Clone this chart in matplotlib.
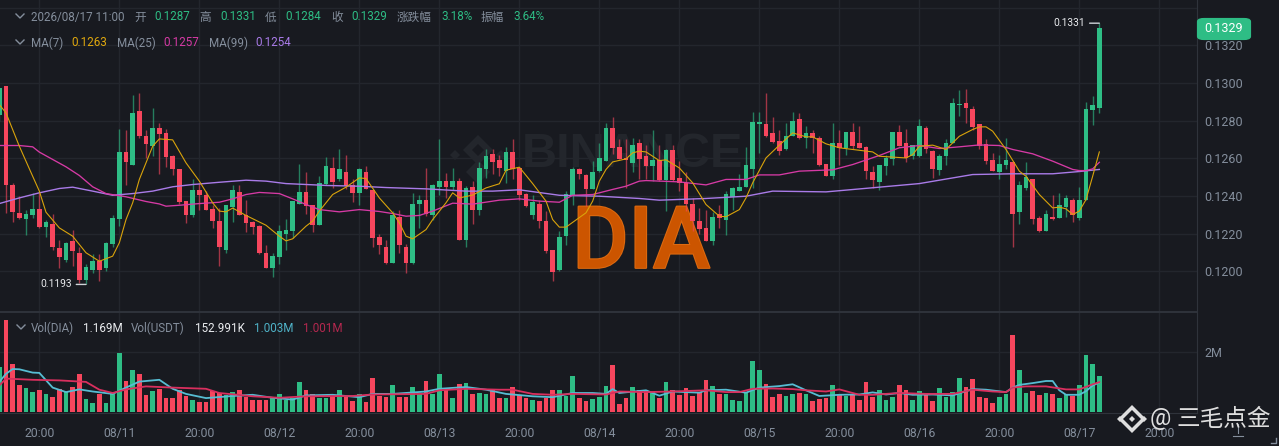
import matplotlib
matplotlib.use("Agg")
import matplotlib.pyplot as plt
import matplotlib.patheffects as pe
from matplotlib.lines import Line2D
from matplotlib.patches import Polygon, FancyBboxPatch
import numpy as np

W, H = 1279, 446
plt.rcParams['font.family'] = ['Roboto', 'Noto Sans CJK SC', 'DejaVu Sans']

# hourly candles, prices in 1e-5 USDT, first candle is cut by the left edge
opens = [12829,
    12983,12461,12311,12277,12297,12330,12237,12252,12122,12063,
    12161,12100,11955,12005,12053,12016,12148,12277,12631,12567,
    12852,12721,12668,12763,12732,12613,12541,12371,12297,12431,
    12403,12330,12270,12116,12344,12420,12300,12261,12240,12100,
    12016,12076,12196,12217,12357,12420,12351,12245,12466,12549,
    12488,12530,12459,12417,12530,12433,12180,12130,12046,12291,
    12130,12046,12357,12381,12297,12447,12480,12447,12480,12166,
    12450,12328,12546,12622,12592,12535,12631,12548,12410,12297,
    12360,12270,12111,12005,12187,12406,12541,12511,12436,12535,
    12587,12762,12661,12601,12576,12682,12611,12557,12592,12486,
    12643,12493,12470,12360,12270,12231,12164,12302,12275,12396,
    12426,12447,12546,12781,12781,12732,12691,12647,12717,12811,
    12707,12732,12710,12571,12505,12682,12657,12742,12682,12661,
    12530,12477,12557,12597,12742,12682,12611,12611,12762,12641,
    12537,12611,12682,12882,12892,12864,12783,12677,12592,12526,
    12567,12581,12316,12445,12491,12281,12215,12291,12286,12344,
    12381,12286,12378,12857,12868]
closes = [12974,
    12456,12316,12286,12302,12332,12237,12260,12129,12076,12152,
    12107,11955,12021,12053,12007,12152,12281,12631,12578,12843,
    12716,12677,12763,12728,12606,12546,12366,12297,12431,12408,
    12327,12265,12127,12350,12431,12298,12256,12237,12097,12016,
    12081,12212,12221,12371,12422,12346,12245,12470,12560,12477,
    12541,12452,12417,12541,12436,12176,12138,12046,12297,12138,
    12046,12360,12381,12307,12459,12480,12447,12480,12166,12440,
    12328,12551,12611,12578,12548,12631,12542,12406,12346,12367,
    12265,12106,11996,12180,12410,12541,12516,12436,12530,12601,
    12762,12657,12597,12590,12671,12597,12557,12592,12486,12643,
    12486,12468,12357,12265,12226,12164,12291,12286,12412,12442,
    12450,12562,12792,12792,12716,12686,12638,12721,12800,12707,
    12732,12707,12567,12505,12682,12654,12742,12668,12657,12535,
    12486,12562,12602,12742,12668,12602,12671,12772,12652,12546,
    12611,12682,12892,12889,12866,12767,12664,12587,12535,12572,
    12592,12307,12461,12502,12277,12215,12302,12277,12350,12392,
    12300,12381,12862,12882,13292]
highs = [12974,
    12983,12470,12399,12328,12417,12417,12275,12307,12169,12157,
    12219,12129,12037,12090,12090,12157,12298,12758,12749,12938,
    12947,12749,12869,12788,12753,12620,12541,12371,12488,12470,
    12426,12355,12337,12355,12456,12459,12378,12270,12244,12138,
    12099,12247,12279,12371,12569,12528,12355,12505,12608,12608,
    12650,12620,12488,12549,12558,12433,12199,12169,12318,12327,
    12148,12417,12408,12549,12466,12700,12523,12549,12496,12452,
    12479,12580,12650,12650,12620,12659,12700,12548,12417,12408,
    12378,12318,12116,12217,12427,12555,12549,12519,12588,12679,
    12788,12820,12700,12700,12709,12700,12673,12749,12670,12647,
    12673,12588,12526,12390,12337,12328,12316,12350,12429,12449,
    12519,12659,12848,12848,12947,12820,12749,12788,12848,12839,
    12770,12749,12721,12572,12788,12749,12742,12788,12770,12664,
    12558,12567,12620,12742,12779,12758,12671,12809,12770,12643,
    12625,12700,12921,12960,12970,12880,12783,12700,12629,12620,
    12709,12581,12479,12580,12491,12293,12328,12408,12417,12406,
    12389,12449,12899,12930,13317]
lows = [12800,
    12311,12261,12279,12191,12284,12231,12180,12111,12019,12049,
    12028,11940,11931,11993,11948,12001,12130,12240,12459,12567,
    12709,12601,12611,12519,12555,12514,12359,12258,12288,12328,
    12325,12228,12028,12099,12261,12297,12208,12196,12090,12016,
    11968,12037,12116,12178,12357,12307,12208,12245,12461,12442,
    12481,12435,12369,12350,12435,12129,12090,12040,12046,12099,
    11989,12040,12228,12293,12272,12408,12387,12431,12166,12129,
    12249,12298,12496,12519,12505,12470,12488,12381,12343,12279,
    12228,12099,11948,12001,12139,12350,12488,12346,12435,12530,
    12587,12625,12594,12440,12530,12488,12488,12479,12479,12320,
    12482,12429,12320,12214,12196,12160,12139,12228,12191,12328,
    12426,12447,12440,12629,12712,12682,12620,12643,12717,12703,
    12657,12629,12558,12505,12488,12567,12620,12652,12654,12488,
    12443,12431,12509,12567,12664,12580,12594,12608,12629,12496,
    12509,12564,12682,12823,12788,12749,12652,12569,12532,12488,
    12541,12129,12249,12431,12249,12208,12215,12275,12286,12290,
    12261,12272,12378,12779,12838]

# volume in millions, same candles
volumes = [1.49,
    3.07,1.60,.91,.80,.66,.75,.59,.50,.78,.68,
    .84,1.28,.45,.32,.59,.32,.61,1.99,1.03,1.40,
    1.28,.56,.69,.76,.46,.48,.75,.54,.39,.34,
    .34,.69,.65,.56,.66,.75,.49,.41,.42,.42,
    .50,.59,.41,.48,.99,.73,.59,.47,.48,.53,
    .75,.53,.37,.61,.34,1.14,.54,.51,.91,.51,
    .51,.83,.59,1.03,.61,1.26,.75,.48,.95,.98,
    .61,.65,.59,.73,.46,.46,.85,.56,.47,.39,
    .37,.48,.75,.74,.53,1.20,.48,.36,.45,.50,
    .86,1.56,.28,.46,.83,.73,.73,.67,.48,1.01,
    .73,.58,.79,.53,.66,1.06,.86,.59,.61,.41,
    .36,.65,1.71,1.39,.95,.50,.61,.55,.59,.64,
    .61,.37,.45,.48,.89,.61,.54,.56,.41,1.01,
    .51,.73,.42,.50,.89,.75,.42,.72,.56,.37,
    .79,.50,.68,1.13,.83,1.09,.51,.48,.29,.51,
    .61,2.59,1.42,.65,.72,.58,.63,.59,.47,.61,
    .54,.92,1.91,1.60,1.20]

ma7_idx = [-1,0,2,4,5,6,8,10,12,14,16,17,18,19,20,21,22,23,25,27,29,31,32,33,34,36,39,41,42,43,45,46,47,
    49,51,53,54,56,58,59,60,61,63,64,66,67,68,70,72,74,75,77,79,81,82,83,84,87,88,89,90,91,93,94,95,
    96,98,99,101,103,105,107,108,110,111,112,114,116,118,120,121,123,125,127,130,131,135,136,137,139,141,143,
    145,146,147,148,150,152,153,155,157,158,159,160,161,162,163,164]
ma7 = [12885,12841,12664,12505,12426,12314,12231,12187,12099,12054,12081,12152,12275,12364,12488,12576,12664,12703,12698,12576,12479,12364,12320,12316,12336,12297,12245,12187,12162,12173,12240,12267,12320,
    12408,12447,12496,12493,12390,12311,12258,12187,12173,12222,12275,12364,12417,12390,12405,12443,12465,12537,12553,12466,12373,12275,12235,12235,12311,12373,12479,12541,12581,12597,12629,12638,
    12634,12588,12592,12549,12470,12355,12293,12290,12328,12390,12470,12602,12670,12735,12714,12714,12677,12656,12647,12634,12611,12602,12620,12664,12670,12647,12717,
    12753,12767,12767,12744,12647,12532,12505,12408,12337,12341,12332,12302,12320,12381,12505,12634]

ma25_idx = [-1,2,4,5,7,9,11,13,15,18,21,23,24,26,29,32,34,36,38,41,43,45,47,
    50,53,56,58,60,62,64,67,70,74,77,80,83,85,88,91,93,95,
    96,101,105,108,111,113,116,119,124,127,131,134,137,140,143,
    146,149,151,154,157,160,161,162,163,164]
ma25 = [12668,12668,12661,12633,12594,12555,12509,12449,12413,12396,12371,12358,12346,12351,12360,12367,12385,12408,12419,12413,12385,12355,12328,
    12316,12328,12318,12307,12293,12297,12320,12362,12357,12378,12385,12373,12367,12404,12408,12435,12452,12479,
    12482,12475,12459,12488,12488,12512,12512,12532,12539,12567,12615,12656,12668,12652,12661,
    12671,12668,12647,12624,12585,12541,12535,12535,12544,12579]

ma99_idx = [-1,2,5,8,10,13,16,19,22,25,28,32,36,39,42,47,
    48,53,57,63,69,73,77,83,89,95,
    98,105,111,115,123,131,137,143,
    145,151,157,161,164]
ma99 = [12360,12390,12417,12440,12447,12426,12404,12413,12426,12449,12461,12473,12484,12479,12466,12458,
    12456,12452,12445,12438,12426,12426,12433,12404,12399,12387,
    12378,12387,12399,12426,12422,12447,12466,12502,
    12514,12518,12518,12530,12541]

vol_ma1_idx = [-1,0,1,2,4,5,7,9,11,13,16,18,20,23,25,27,30,34,37,40,43,45,49,53,55,58,63,
    65,69,72,75,79,82,85,88,90,91,92,96,98,100,104,105,108,111,113,116,118,120,122,125,128,
    130,132,134,136,139,142,144,145,147,150,151,152,154,156,157,158,159,161,162,163,164]
vol_ma1 = [1.01,1.28,1.44,1.43,1.32,1.31,.82,.67,.76,.69,.61,.82,1.02,1.08,.78,.61,.47,.54,.58,.48,.42,.56,.58,.50,.61,.61,.69,
    .78,.84,.75,.61,.53,.50,.64,.64,.61,.77,.64,.73,.55,.69,.65,.73,.75,.65,.82,.87,.93,.73,.54,.58,.59,
    .66,.59,.64,.58,.59,.56,.70,.77,.75,.67,.82,.91,.97,1.04,1.04,.73,.58,.58,.70,.89,.99]

vol_ma2_idx = [-1,0,4,8,12,14,16,18,21,25,30,32,37,41,45,52,55,63,
    65,69,74,76,79,82,85,90,92,96,100,105,108,110,112,115,118,120,123,125,127,128,
    130,134,138,142,145,148,150,151,153,156,159,161,163,164]
vol_ma2 = [.89,1.12,1.08,1.06,1.01,.75,.64,.76,.86,.82,.78,.64,.53,.48,.53,.54,.59,.61,
    .73,.78,.75,.75,.61,.58,.61,.59,.69,.67,.69,.73,.67,.67,.78,.79,.77,.73,.69,.76,.64,.58,
    .58,.64,.61,.61,.75,.69,.67,.82,.86,.86,.76,.76,.93,1.00]

price_ticks = [0.120, 0.122, 0.124, 0.126, 0.128, 0.130, 0.132, 0.134]
price_tick_labels = ['0.1200', '0.1220', '0.1240', '0.1260', '0.1280', '0.1300', '0.1320', '']
time_ticks = [5, 17, 29, 41, 53, 65, 77, 89, 101, 113, 125, 137, 149, 161, 173]
time_labels = ['20:00', '08/11', '20:00', '08/12', '20:00', '08/13', '20:00', '08/14',
               '20:00', '08/15', '20:00', '08/16', '20:00', '08/17', '20:00']

BG = '#181a20'
UP = '#2ebd85'
DOWN = '#f6465d'
GRID = '#23262d'
AXIS = '#2f333b'
TXT = '#848e9c'

x = np.arange(-1, 165)
o = np.array(opens) / 1e5
c = np.array(closes) / 1e5
hi = np.array(highs) / 1e5
lo = np.array(lows) / 1e5
vol = np.array(volumes)
up = c >= o
cols = [UP if u else DOWN for u in up]


def fx(px):
    return px / W


def fy(py):
    return 1 - py / H


fig = plt.figure(figsize=(W / 100, H / 100), dpi=100, facecolor=BG)
ax = fig.add_axes([0, fy(311), fx(1197), 311 / H], facecolor=BG)
axv = fig.add_axes([0, fy(413), fx(1197), 101.5 / H], facecolor=BG, sharex=ax)

# main panel
ax.set_xlim(-0.9, 178.65)
ax.set_ylim(0.11790, 0.13440)
ax.set_xticks(time_ticks)
ax.set_yticks(price_ticks)
ax.set_yticklabels(price_tick_labels)
ax.yaxis.tick_right()
ax.tick_params(axis='y', length=0, pad=5.5, labelsize=9, labelcolor=TXT)
ax.tick_params(axis='x', length=0, labelbottom=False)
ax.grid(True, color=GRID, lw=1)
ax.set_axisbelow(True)
for s in ax.spines.values():
    s.set_visible(False)
ax.spines['right'].set_visible(True)
ax.spines['right'].set_color(AXIS)

ax.text(94, 0.12618, 'BINANCE', color='#23262c', fontsize=35, fontweight='bold',
        family=['Liberation Sans'], ha='center', va='center', zorder=1)
dia = ax.text(95.3, 0.12019, 'DIA', color='#cc5500', fontsize=62, fontweight='medium', family=['Roboto'],
              ha='center', va='baseline', zorder=1.5)
dia.set_path_effects([pe.withStroke(linewidth=1.5, foreground='#dd6a10')])

ax.vlines(x, lo, hi, colors=cols, lw=1, alpha=0.62, zorder=2)
ax.bar(x, np.abs(c - o), bottom=np.minimum(o, c), width=0.74, color=cols, zorder=3)
ax.plot(ma99_idx, np.array(ma99) / 1e5, color='#a97be8', lw=1, zorder=4)
ax.plot(ma25_idx, np.array(ma25) / 1e5, color='#d63aa5', lw=0.95, zorder=4)
ax.plot(ma7_idx, np.array(ma7) / 1e5, color='#d9a30b', lw=0.8, zorder=5)

for idx, label in ((np.argmax(hi), '0.1331'), (np.argmin(lo), '0.1193')):
    ax.annotate(label, xy=(x[idx], [hi, lo][label == '0.1193'][idx]), xytext=(-10, 0),
                textcoords='offset points', ha='right', va='center', color='#eaecef', fontsize=7.4,
                arrowprops=dict(arrowstyle='-', color='#cfd3d8', lw=1, shrinkA=1, shrinkB=0), zorder=6)

# volume panel
axv.set_ylim(-0.027, 3.357)
axv.set_yticks([2])
axv.set_yticklabels(['2M'])
axv.yaxis.tick_right()
axv.tick_params(axis='y', length=0, pad=5.5, labelsize=9, labelcolor=TXT)
axv.set_xticks(time_ticks)
axv.set_xticklabels(time_labels)
axv.tick_params(axis='x', length=0, pad=10, labelsize=8.8, labelcolor=TXT)
axv.grid(True, color=GRID, lw=1)
axv.set_axisbelow(True)
for s in axv.spines.values():
    s.set_visible(False)
axv.spines['right'].set_visible(True)
axv.spines['right'].set_color(AXIS)
axv.spines['top'].set_visible(True)
axv.spines['top'].set_color(AXIS)
axv.spines['top'].set_linewidth(1.4)
axv.spines['bottom'].set_visible(True)
axv.spines['bottom'].set_color(AXIS)
axv.bar(x, vol, width=0.74, color=cols, zorder=3)
axv.plot(vol_ma1_idx, vol_ma1, color='#56bdd3', lw=1.3, zorder=4)
axv.plot(vol_ma2_idx, vol_ma2, color='#d92f5e', lw=1.3, zorder=5)


def row(py, items, size=8.4):
    for px, s, col in items:
        fig.text(fx(px), fy(py), s, color=col, fontsize=size, ha='left', va='center', zorder=10)


def chevron(px, py):
    fig.add_artist(Line2D([fx(px - 4), fx(px), fx(px + 4)], [fy(py - 2), fy(py + 2), fy(py - 2)],
                          color=TXT, lw=1))


chevron(20, 16)
row(17, [(31, '2026/08/17 11:00', TXT), (134, '开', TXT), (154, '0.1287', UP), (199, '高', TXT),
         (220, '0.1331', UP), (265, '低', TXT), (285, '0.1284', UP), (331, '收', TXT),
         (351, '0.1329', UP), (397, '涨跌幅', TXT), (441, '3.18%', UP), (481, '振幅', TXT),
         (513, '3.64%', UP)])
chevron(20, 42)
row(43, [(31, 'MA(7)', TXT), (71, '0.1263', '#e0a80d'), (117, 'MA(25)', TXT), (163, '0.1257', '#d63aa5'),
         (209, 'MA(99)', TXT), (255, '0.1254', '#a97be8')])
chevron(21, 327)
row(328, [(31, 'Vol(DIA)', TXT), (83, '1.169M', '#eaecef'), (131, 'Vol(USDT)', TXT), (195, '152.991K', '#eaecef'),
          (254, '1.003M', '#4fb3c8'), (303, '1.001M', '#b5284f')])

# last price tag
tag = FancyBboxPatch((fx(1199), fy(38)), fx(50), 18 / H, boxstyle='round,pad=0,rounding_size=0.004',
                     transform=fig.transFigure, facecolor=UP, edgecolor=UP, lw=3, zorder=9)
tag.set_mutation_aspect(1)
fig.add_artist(tag)
fig.text(fx(1224), fy(29), '0.1329', color='white', fontsize=9, ha='center', va='center', zorder=10)


def diamond(cx, cy, r, col, zorder=0.5, target=None):
    pts = [(fx(cx - r), fy(cy)), (fx(cx), fy(cy - r)), (fx(cx + r), fy(cy)), (fx(cx), fy(cy + r))]
    poly = Polygon(pts, closed=True, transform=fig.transFigure, facecolor=col, edgecolor='none', zorder=zorder)
    if target is None:
        fig.add_artist(poly)
    else:
        target.add_patch(poly)


# faint logo behind the candles
wm = '#23262c'
for cx, cy, r in ((478, 150, 15), (455, 155, 5), (501, 155, 5), (478, 172, 12)):
    diamond(cx, cy, r, wm, zorder=1, target=ax)
diamond(478, 150, 6, BG, zorder=1.1, target=ax)

# signature, bottom right
sig = '#dedede'
diamond(1132, 419, 14, sig, zorder=11)
diamond(1132, 419, 9, BG, zorder=11.1)
diamond(1132, 419, 3, sig, zorder=11.2)
diamond(1120, 419, 3, sig, zorder=11.2)
diamond(1144, 419, 3, sig, zorder=11.2)
fig.text(fx(1150), fy(419), '@', color=sig, fontsize=17, ha='left', va='center', zorder=11)
fig.text(fx(1177), fy(419), '三毛点金', color=sig, fontsize=17, family=['Noto Sans CJK SC'],
         ha='left', va='center', zorder=11)

# small icons in the corner
fig.add_artist(Line2D([fx(1238)] * 2, [fy(424), fy(433)], color=TXT, lw=0.8))
fig.add_artist(Line2D([fx(1233), fx(1243)], [fy(436)] * 2, color=TXT, lw=0.8))
fig.add_artist(Line2D([fx(1271), fx(1276), fx(1276)], [fy(443), fy(443), fy(438)], color=TXT, lw=1))

fig.savefig('out.png', dpi=100, facecolor=BG)
